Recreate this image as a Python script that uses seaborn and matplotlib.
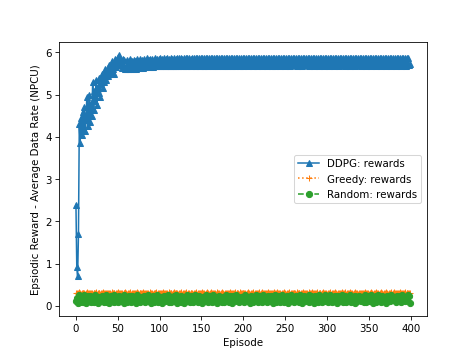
import matplotlib
matplotlib.use("Agg")
import matplotlib.pyplot as plt
import seaborn as sns

episodes = list(range(400))

ddpg_rewards = [
    2.40, 0.92, 0.70, 1.70,
    4.30, 3.85, 4.45, 4.05, 4.60, 4.20,
    4.70, 4.15, 4.40, 4.95, 4.25, 4.55, 5.00, 4.35, 4.80, 4.50,
    5.30, 4.65, 5.10, 4.85, 5.35, 4.75, 5.20, 5.05, 5.40, 4.95,
    5.25, 5.50, 5.15, 5.45, 5.30, 5.60, 5.35, 5.55, 5.45, 5.70,
    5.50, 5.65, 5.55, 5.80, 5.60, 5.75, 5.50, 5.85, 5.65, 5.70,
    5.90, 5.75, 5.95, 5.70, 5.80, 5.64, 5.85, 5.66, 5.82, 5.62,
    5.60, 5.82, 5.62, 5.80, 5.60, 5.84, 5.63, 5.79, 5.61, 5.83, 5.64, 5.81, 5.62, 5.85, 5.65, 5.80, 5.63, 5.84, 5.66, 5.82,
    5.64, 5.85, 5.66, 5.81, 5.65, 5.86, 5.67, 5.83, 5.66, 5.84, 5.67, 5.85, 5.66, 5.83, 5.68, 5.86, 5.67, 5.84, 5.68, 5.85,
    5.67, 5.86, 5.68, 5.84, 5.67, 5.86, 5.69, 5.85, 5.67, 5.87, 5.68, 5.84, 5.69, 5.86, 5.67, 5.85, 5.69, 5.87, 5.68, 5.85,
    5.69, 5.87, 5.68, 5.86, 5.70, 5.87, 5.68, 5.85, 5.69, 5.87, 5.70, 5.86, 5.68, 5.88, 5.69, 5.87, 5.70, 5.85, 5.68, 5.87,
    5.70, 5.88, 5.69, 5.86, 5.68, 5.87, 5.70, 5.88, 5.69, 5.86, 5.71, 5.87, 5.69, 5.88, 5.68, 5.86, 5.70, 5.87, 5.69, 5.88,
    5.71, 5.86, 5.69, 5.87, 5.70, 5.88, 5.68, 5.87, 5.70, 5.86, 5.69, 5.88, 5.71, 5.87, 5.69, 5.86, 5.70, 5.88, 5.69, 5.87,
    5.70, 5.87, 5.69, 5.88, 5.71, 5.86, 5.69, 5.87, 5.70, 5.88, 5.68, 5.87, 5.70, 5.86, 5.71, 5.88, 5.69, 5.87, 5.70, 5.86,
    5.69, 5.88, 5.71, 5.87, 5.70, 5.86, 5.69, 5.88, 5.70, 5.87, 5.71, 5.86, 5.69, 5.88, 5.70, 5.87, 5.69, 5.86, 5.71, 5.88,
    5.70, 5.87, 5.69, 5.88, 5.70, 5.86, 5.71, 5.87, 5.69, 5.88, 5.70, 5.87, 5.71, 5.86, 5.69, 5.88, 5.70, 5.87, 5.69, 5.86,
    5.71, 5.88, 5.70, 5.87, 5.69, 5.86, 5.71, 5.88, 5.70, 5.87, 5.69, 5.88, 5.70, 5.86, 5.71, 5.87, 5.69, 5.88, 5.70, 5.87,
    5.70, 5.86, 5.71, 5.88, 5.69, 5.87, 5.70, 5.88, 5.71, 5.86, 5.69, 5.87, 5.70, 5.88, 5.71, 5.87, 5.70, 5.86, 5.69, 5.88,
    5.71, 5.87, 5.70, 5.88, 5.69, 5.86, 5.71, 5.87, 5.70, 5.88, 5.69, 5.87, 5.71, 5.86, 5.70, 5.88, 5.69, 5.87, 5.70, 5.88,
    5.71, 5.86, 5.69, 5.87, 5.70, 5.88, 5.71, 5.87, 5.69, 5.86, 5.70, 5.88, 5.71, 5.87, 5.69, 5.88, 5.70, 5.86, 5.71, 5.87,
    5.70, 5.88, 5.69, 5.87, 5.71, 5.86, 5.70, 5.88, 5.69, 5.87, 5.71, 5.88, 5.70, 5.86, 5.69, 5.87, 5.71, 5.88, 5.70, 5.87,
    5.69, 5.86, 5.71, 5.88, 5.70, 5.87, 5.69, 5.88, 5.71, 5.86, 5.70, 5.87, 5.69, 5.88, 5.71, 5.87, 5.70, 5.86, 5.69, 5.88,
    5.71, 5.87, 5.70, 5.88, 5.69, 5.86, 5.71, 5.87, 5.70, 5.88, 5.69, 5.87, 5.71, 5.86, 5.70, 5.88, 5.69, 5.87, 5.71, 5.88,
    5.70, 5.86, 5.69, 5.87, 5.71, 5.88, 5.70, 5.87, 5.69, 5.86, 5.71, 5.88, 5.70, 5.87, 5.69, 5.88, 5.71, 5.86, 5.70, 5.72,
]

greedy_rewards = [
    0.30, 0.31, 0.29, 0.30, 0.32, 0.30, 0.29, 0.31, 0.30, 0.30, 0.31, 0.29, 0.30, 0.32, 0.30, 0.31, 0.29, 0.30, 0.31, 0.30,
    0.29, 0.30, 0.31, 0.30, 0.32, 0.29, 0.30, 0.31, 0.30, 0.29, 0.30, 0.31, 0.32, 0.30, 0.29, 0.30, 0.31, 0.30, 0.30, 0.29,
    0.31, 0.30, 0.29, 0.32, 0.30, 0.31, 0.30, 0.29, 0.30, 0.31, 0.32, 0.30, 0.29, 0.30, 0.31, 0.30, 0.29, 0.31, 0.30, 0.32,
    0.30, 0.29, 0.31, 0.30, 0.30, 0.32, 0.29, 0.30, 0.31, 0.30, 0.29, 0.31, 0.30, 0.32, 0.30, 0.29, 0.30, 0.31, 0.30, 0.30,
    0.32, 0.30, 0.29, 0.31, 0.30, 0.30, 0.31, 0.29, 0.30, 0.32, 0.30, 0.31, 0.29, 0.30, 0.30, 0.31, 0.32, 0.29, 0.30, 0.31,
    0.30, 0.29, 0.30, 0.31, 0.32, 0.30, 0.30, 0.29, 0.31, 0.30, 0.29, 0.32, 0.30, 0.31, 0.30, 0.29, 0.30, 0.32, 0.31, 0.30,
    0.31, 0.30, 0.29, 0.30, 0.31, 0.32, 0.30, 0.29, 0.30, 0.31, 0.30, 0.30, 0.32, 0.29, 0.31, 0.30, 0.29, 0.30, 0.31, 0.30,
    0.29, 0.31, 0.30, 0.32, 0.30, 0.29, 0.31, 0.30, 0.30, 0.29, 0.31, 0.32, 0.30, 0.30, 0.29, 0.31, 0.30, 0.32, 0.30, 0.29,
    0.30, 0.32, 0.31, 0.29, 0.30, 0.30, 0.31, 0.29, 0.32, 0.30, 0.31, 0.30, 0.29, 0.30, 0.31, 0.32, 0.30, 0.29, 0.31, 0.30,
    0.31, 0.29, 0.30, 0.30, 0.32, 0.31, 0.29, 0.30, 0.31, 0.30, 0.32, 0.29, 0.30, 0.31, 0.30, 0.29, 0.32, 0.30, 0.30, 0.31,
    0.30, 0.30, 0.31, 0.29, 0.30, 0.32, 0.30, 0.31, 0.29, 0.30, 0.31, 0.30, 0.32, 0.29, 0.30, 0.31, 0.30, 0.29, 0.30, 0.32,
    0.29, 0.31, 0.32, 0.30, 0.29, 0.30, 0.31, 0.30, 0.30, 0.32, 0.29, 0.31, 0.30, 0.30, 0.31, 0.29, 0.30, 0.32, 0.30, 0.31,
    0.32, 0.30, 0.29, 0.31, 0.30, 0.29, 0.30, 0.31, 0.32, 0.30, 0.30, 0.29, 0.31, 0.30, 0.32, 0.30, 0.29, 0.31, 0.30, 0.30,
    0.30, 0.31, 0.30, 0.29, 0.32, 0.30, 0.31, 0.30, 0.29, 0.31, 0.30, 0.32, 0.29, 0.30, 0.31, 0.30, 0.30, 0.29, 0.32, 0.31,
    0.31, 0.30, 0.32, 0.30, 0.29, 0.31, 0.30, 0.30, 0.32, 0.29, 0.30, 0.31, 0.30, 0.29, 0.30, 0.32, 0.31, 0.30, 0.29, 0.30,
    0.29, 0.30, 0.31, 0.32, 0.30, 0.29, 0.30, 0.31, 0.30, 0.30, 0.32, 0.31, 0.29, 0.30, 0.31, 0.30, 0.29, 0.30, 0.32, 0.30,
    0.30, 0.32, 0.30, 0.29, 0.31, 0.30, 0.30, 0.32, 0.29, 0.31, 0.30, 0.29, 0.30, 0.31, 0.32, 0.30, 0.31, 0.29, 0.30, 0.31,
    0.31, 0.29, 0.30, 0.31, 0.30, 0.32, 0.29, 0.30, 0.30, 0.31, 0.29, 0.30, 0.32, 0.30, 0.31, 0.29, 0.30, 0.31, 0.30, 0.32,
    0.30, 0.31, 0.29, 0.30, 0.32, 0.30, 0.31, 0.29, 0.30, 0.31, 0.30, 0.32, 0.30, 0.29, 0.30, 0.31, 0.30, 0.32, 0.29, 0.30,
    0.32, 0.30, 0.31, 0.30, 0.29, 0.30, 0.31, 0.32, 0.30, 0.29, 0.31, 0.30, 0.30, 0.32, 0.29, 0.30, 0.31, 0.30, 0.31, 0.30,
]

random_rewards = [
    0.12, 0.20, 0.08, 0.17, 0.25, 0.10, 0.15, 0.22, 0.09, 0.18, 0.26, 0.13, 0.07, 0.19, 0.23, 0.11, 0.16, 0.24, 0.10, 0.14,
    0.21, 0.09, 0.18, 0.25, 0.12, 0.16, 0.08, 0.22, 0.14, 0.19, 0.11, 0.24, 0.17, 0.09, 0.20, 0.13, 0.26, 0.10, 0.15, 0.21,
    0.08, 0.18, 0.23, 0.12, 0.16, 0.25, 0.10, 0.19, 0.14, 0.22, 0.09, 0.17, 0.24, 0.11, 0.15, 0.20, 0.13, 0.26, 0.08, 0.18,
    0.22, 0.10, 0.16, 0.24, 0.12, 0.19, 0.09, 0.23, 0.15, 0.11, 0.21, 0.17, 0.08, 0.25, 0.13, 0.20, 0.10, 0.18, 0.14, 0.22,
    0.11, 0.24, 0.16, 0.09, 0.19, 0.13, 0.26, 0.12, 0.17, 0.21, 0.08, 0.15, 0.23, 0.10, 0.20, 0.14, 0.18, 0.25, 0.09, 0.16,
    0.19, 0.12, 0.22, 0.08, 0.17, 0.24, 0.11, 0.15, 0.20, 0.13, 0.25, 0.09, 0.18, 0.22, 0.10, 0.16, 0.14, 0.23, 0.12, 0.19,
    0.25, 0.06, 0.17, 0.21, 0.13, 0.10, 0.24, 0.15, 0.18, 0.08, 0.22, 0.12, 0.19, 0.26, 0.11, 0.16, 0.09, 0.23, 0.14, 0.20,
    0.10, 0.18, 0.25, 0.12, 0.15, 0.21, 0.09, 0.24, 0.17, 0.13, 0.19, 0.08, 0.22, 0.16, 0.11, 0.26, 0.14, 0.20, 0.10, 0.17,
    0.23, 0.13, 0.09, 0.19, 0.25, 0.11, 0.16, 0.21, 0.08, 0.18, 0.14, 0.24, 0.12, 0.20, 0.10, 0.17, 0.22, 0.09, 0.15, 0.25,
    0.12, 0.21, 0.16, 0.10, 0.24, 0.14, 0.19, 0.08, 0.23, 0.13, 0.18, 0.26, 0.11, 0.15, 0.20, 0.09, 0.17, 0.22, 0.12, 0.16,
    0.20, 0.09, 0.25, 0.14, 0.18, 0.11, 0.22, 0.16, 0.08, 0.24, 0.13, 0.19, 0.10, 0.21, 0.15, 0.26, 0.12, 0.17, 0.09, 0.23,
    0.14, 0.22, 0.10, 0.18, 0.25, 0.12, 0.16, 0.20, 0.09, 0.24, 0.15, 0.11, 0.19, 0.23, 0.13, 0.08, 0.21, 0.17, 0.25, 0.10,
    0.17, 0.11, 0.23, 0.15, 0.09, 0.20, 0.26, 0.13, 0.18, 0.10, 0.22, 0.14, 0.24, 0.08, 0.19, 0.16, 0.12, 0.25, 0.11, 0.21,
    0.09, 0.19, 0.14, 0.24, 0.12, 0.17, 0.21, 0.10, 0.25, 0.15, 0.08, 0.20, 0.13, 0.23, 0.18, 0.11, 0.16, 0.22, 0.09, 0.26,
    0.15, 0.23, 0.11, 0.17, 0.20, 0.08, 0.24, 0.13, 0.19, 0.10, 0.25, 0.16, 0.12, 0.21, 0.09, 0.18, 0.14, 0.26, 0.11, 0.19,
    0.22, 0.10, 0.18, 0.13, 0.25, 0.16, 0.09, 0.21, 0.14, 0.24, 0.11, 0.19, 0.08, 0.23, 0.17, 0.12, 0.20, 0.15, 0.25, 0.10,
    0.13, 0.20, 0.24, 0.09, 0.16, 0.22, 0.12, 0.18, 0.26, 0.10, 0.15, 0.21, 0.13, 0.08, 0.24, 0.17, 0.11, 0.19, 0.23, 0.14,
    0.18, 0.12, 0.21, 0.16, 0.10, 0.25, 0.14, 0.09, 0.20, 0.23, 0.11, 0.17, 0.26, 0.13, 0.19, 0.08, 0.22, 0.15, 0.10, 0.24,
    0.11, 0.25, 0.15, 0.20, 0.13, 0.09, 0.23, 0.17, 0.12, 0.21, 0.16, 0.08, 0.24, 0.14, 0.19, 0.11, 0.26, 0.18, 0.13, 0.22,
    0.16, 0.21, 0.10, 0.24, 0.14, 0.19, 0.12, 0.23, 0.09, 0.17, 0.25, 0.13, 0.20, 0.11, 0.18, 0.22, 0.15, 0.27, 0.24, 0.08,
]

assert len(ddpg_rewards) == len(greedy_rewards) == len(random_rewards) == len(episodes)

fig, ax = plt.subplots(figsize=(6.4, 4.8), dpi=74.0625)

sns.lineplot(x=episodes, y=ddpg_rewards, ax=ax, color="C0", linestyle="-",
             marker="^", markersize=6, markeredgecolor="C0", markeredgewidth=1,
             label="DDPG: rewards")
sns.lineplot(x=episodes, y=greedy_rewards, ax=ax, color="C1", linestyle=":",
             marker="+", markersize=6, markeredgecolor="C1", markeredgewidth=1,
             label="Greedy: rewards")
sns.lineplot(x=episodes, y=random_rewards, ax=ax, color="C2", linestyle="--",
             marker="o", markersize=6, markeredgecolor="C2", markeredgewidth=1,
             label="Random: rewards")

ax.set_xlabel("Episode")
ax.set_ylabel("Epsiodic Reward - Average Data Rate (NPCU)")
ax.legend(loc="center right")

fig.savefig("out.png", dpi=74.0625)
